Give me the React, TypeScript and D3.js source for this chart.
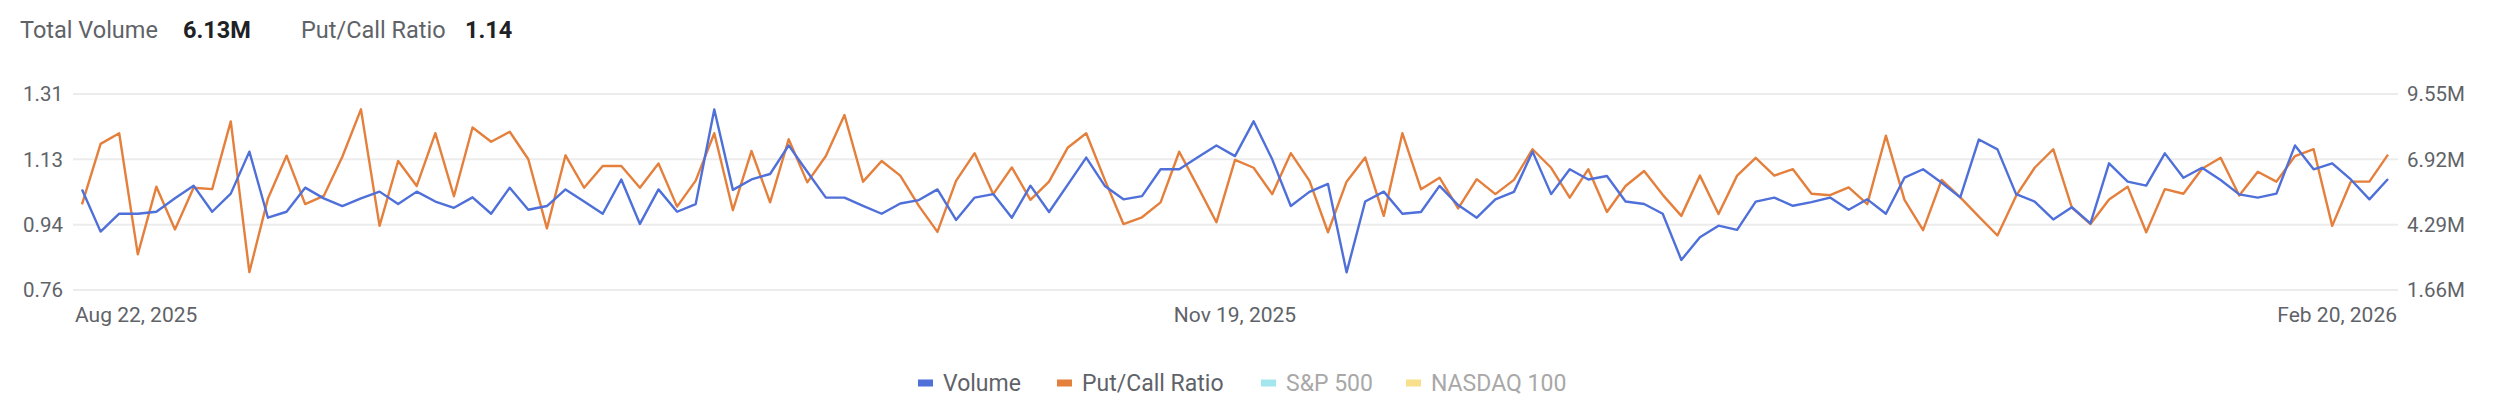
import React from "react";
import * as d3 from "d3";

// ---- Data ----
const HOLIDAYS = ["2025-09-01", "2025-11-27", "2025-12-25", "2026-01-01", "2026-01-19", "2026-02-16"];
const fmtKey = d3.timeFormat("%Y-%m-%d");
const DATES: Date[] = d3.timeDay
  .range(new Date(2025, 7, 22), new Date(2026, 1, 21))
  .filter((d) => d.getDay() !== 0 && d.getDay() !== 6 && !HOLIDAYS.includes(fmtKey(d)));

// Volume in millions
const VOLUME = [
  5.71, 4.01, 4.73, 4.73, 4.81, 5.35, 5.86, 4.81, 5.54, 7.23,
  4.57, 4.81, 5.78, 5.35, 5.04, 5.35, 5.62, 5.12, 5.62, 5.22,
  4.97, 5.39, 4.73, 5.78, 4.89, 5.04, 5.71, 5.22, 4.73, 6.11,
  4.32, 5.71, 4.81, 5.12, 8.93, 5.69, 6.11, 6.33, 7.48, 6.42,
  5.38, 5.38, 5.05, 4.73, 5.14, 5.28, 5.71, 4.48, 5.38, 5.52,
  4.57, 5.86, 4.80, 5.89, 6.99, 5.85, 5.31, 5.44, 6.52, 6.52,
  7.00, 7.48, 7.05, 8.45, 6.92, 5.04, 5.61, 5.93, 2.37, 5.22,
  5.62, 4.73, 4.80, 5.85, 5.08, 4.57, 5.31, 5.61, 7.23, 5.52,
  6.52, 6.11, 6.25, 5.22, 5.12, 4.73, 2.87, 3.78, 4.25, 4.08,
  5.22, 5.38, 5.05, 5.20, 5.38, 4.89, 5.31, 4.73, 6.18, 6.52,
  5.98, 5.39, 7.72, 7.32, 5.52, 5.22, 4.50, 4.99, 4.34, 6.76,
  6.02, 5.86, 7.16, 6.18, 6.58, 6.09, 5.51, 5.38, 5.54, 7.48,
  6.52, 6.76, 6.11, 5.31, 6.13,
];

const PUT_CALL = [
  1.0, 1.17, 1.2, 0.86, 1.05, 0.93, 1.047, 1.043, 1.233, 0.81,
  1.017, 1.137, 1.001, 1.024, 1.134, 1.267, 0.94, 1.122, 1.052, 1.2,
  1.023, 1.216, 1.176, 1.204, 1.127, 0.933, 1.138, 1.047, 1.108, 1.108,
  1.047, 1.115, 0.994, 1.067, 1.2, 0.984, 1.15, 1.006, 1.183, 1.062,
  1.136, 1.251, 1.064, 1.122, 1.081, 0.996, 0.923, 1.066, 1.144, 1.029,
  1.104, 1.013, 1.064, 1.159, 1.2, 1.069, 0.945, 0.964, 1.006, 1.148,
  1.05, 0.95, 1.125, 1.103, 1.029, 1.144, 1.067, 0.922, 1.064, 1.132,
  0.968, 1.2, 1.043, 1.075, 0.989, 1.071, 1.029, 1.069, 1.155, 1.103,
  1.019, 1.099, 0.979, 1.052, 1.094, 1.027, 0.968, 1.081, 0.973, 1.081,
  1.131, 1.081, 1.099, 1.03, 1.026, 1.048, 1.001, 1.193, 1.013, 0.928,
  1.069, 1.02, 0.966, 0.913, 1.024, 1.103, 1.155, 0.991, 0.945, 1.014,
  1.05, 0.922, 1.043, 1.03, 1.1, 1.131, 1.025, 1.092, 1.064, 1.136,
  1.155, 0.94, 1.064, 1.064, 1.14,
];

const LEFT_TICKS = [0.76, 0.9433, 1.1267, 1.31];
const RIGHT_TICKS = [1.66, 4.29, 6.92, 9.55];
const X_TICK_DATES = ["2025-08-22", "2025-11-19", "2026-02-20"];

const HEADER = [
  { label: "Total Volume", value: "6.13M" },
  { label: "Put/Call Ratio", value: "1.14" },
];

const LEGEND = [
  { name: "Volume", color: "#4f6fd9", active: true },
  { name: "Put/Call Ratio", color: "#e47f3c", active: true },
  { name: "S&P 500", color: "#a3e6ee", active: false },
  { name: "NASDAQ 100", color: "#f7df8c", active: false },
];

// ---- Layout ----
const W = 2494;
const H = 418;
const GRID_X0 = 73;
const GRID_X1 = 2398;
const PX0 = 82;
const PX1 = 2388;
const PY0 = 94;
const PY1 = 290;
const FONT = "Roboto, 'Noto Sans', Arial, sans-serif";

export default function App() {
  const keys = DATES.map(fmtKey);
  const x = d3.scalePoint<string>().domain(keys).range([PX0, PX1]);
  const yL = d3.scaleLinear().domain([0.76, 1.31]).range([PY1, PY0]);
  const yR = d3.scaleLinear().domain([1.66, 9.55]).range([PY1, PY0]);

  const lineVol = d3
    .line<number>()
    .x((_, i) => x(keys[i]) as number)
    .y((d) => yR(d));
  const linePC = d3
    .line<number>()
    .x((_, i) => x(keys[i]) as number)
    .y((d) => yL(d));

  const tickFmt = d3.timeFormat("%b %-d, %Y");
  const parse = d3.timeParse("%Y-%m-%d");

  const headerPos = [
    { lx: 20, vx: 183 },
    { lx: 301, vx: 465 },
  ];

  const legendPos = [918, 1057, 1261, 1406];

  return (
    <svg
      width={W}
      height={H}
      style={{ position: "absolute", left: 0, top: 0, display: "block", background: "#fff" }}
      fontFamily={FONT}
    >
      {HEADER.map((h, i) => (
        <g key={h.label}>
          <text x={headerPos[i].lx} y={38} fontSize={23.5} fill="#5f6368">
            {h.label}
          </text>
          <text x={headerPos[i].vx} y={38} fontSize={23.5} fontWeight={700} fill="#202124">
            {h.value}
          </text>
        </g>
      ))}

      {LEFT_TICKS.map((t) => (
        <line
          key={"g" + t}
          x1={GRID_X0}
          x2={GRID_X1}
          y1={yL(t)}
          y2={yL(t)}
          stroke="#ececec"
          strokeWidth={2}
        />
      ))}

      {LEFT_TICKS.map((t) => (
        <text
          key={"l" + t}
          x={63}
          y={yL(t)}
          dy="0.36em"
          textAnchor="end"
          fontSize={20.5}
          fill="#5f6368"
        >
          {t.toFixed(2)}
        </text>
      ))}
      {RIGHT_TICKS.map((t) => (
        <text key={"r" + t} x={2407} y={yR(t)} dy="0.36em" fontSize={20.5} fill="#5f6368">
          {t.toFixed(2) + "M"}
        </text>
      ))}

      {X_TICK_DATES.map((k, i) => {
        const anchor = i === 0 ? "start" : i === X_TICK_DATES.length - 1 ? "end" : "middle";
        const px = x(k) as number;
        const tx = i === 0 ? px - 7 : i === X_TICK_DATES.length - 1 ? px + 9 : px;
        return (
          <text key={k} x={tx} y={322} textAnchor={anchor} fontSize={21} fill="#5f6368">
            {tickFmt(parse(k) as Date)}
          </text>
        );
      })}

      <path
        d={linePC(PUT_CALL) || ""}
        fill="none"
        stroke="#e47f3c"
        strokeWidth={2.4}
        strokeLinejoin="round"
      />
      <path
        d={lineVol(VOLUME) || ""}
        fill="none"
        stroke="#4f6fd9"
        strokeWidth={2.4}
        strokeLinejoin="round"
      />

      {LEGEND.map((l, i) => (
        <g key={l.name} transform={`translate(${legendPos[i]},383)`}>
          <rect x={0} y={-3.5} width={15} height={7} fill={l.color} />
          <text x={25} y={0} dy="0.36em" fontSize={23} fill={l.active ? "#5f6368" : "#a8a8a8"}>
            {l.name}
          </text>
        </g>
      ))}
    </svg>
  );
}
